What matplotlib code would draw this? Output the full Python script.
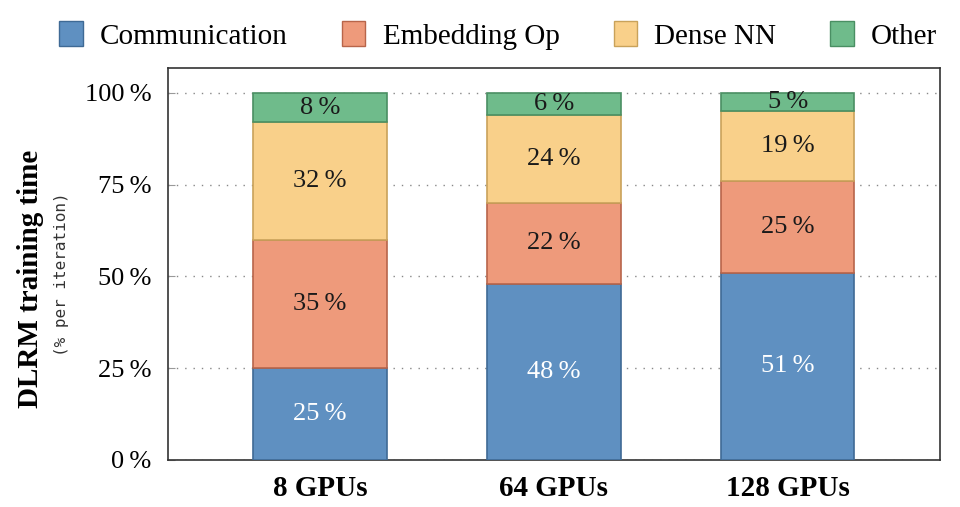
import numpy as np
import matplotlib.pyplot as plt
from matplotlib.patches import Patch

# datos
grupos = ['8 GPUs', '64 GPUs', '128 GPUs']
series = ['Communication', 'Embedding Op', 'Dense NN', 'Other']
communication = [25, 48, 51]
embedding = [35, 22, 25]
dense = [32, 24, 19]
other = [8, 6, 5]
valores = [communication, embedding, dense, other]

colores = ['#5f90c1', '#ee9a7b', '#f9d08a', '#6fbb8b']
bordes = ['#3f6a95', '#b8654a', '#c9a25a', '#4a8f63']
texto = ['white', '#1a1a1a', '#1a1a1a', '#1a1a1a']

plt.rcParams['font.family'] = ['Liberation Serif', 'DejaVu Serif']

fig = plt.figure(figsize=(9.6, 5.07), dpi=100)
ax = fig.add_axes([0.175, 0.093, 0.804, 0.773])

x = np.arange(len(grupos))
base = np.zeros(len(grupos))
for vals, c, b, t in zip(valores, colores, bordes, texto):
    ax.bar(x, vals, 0.57, bottom=base, color=c, edgecolor=b, linewidth=1.2, zorder=3)
    for xi, bi, v in zip(x, base, vals):
        ax.text(xi, bi + v / 2, f'{v}\u2009%', ha='center', va='center',
                fontsize=19, color=t, zorder=4)
    base += vals

ax.set_xlim(-0.65, 2.65)
ax.set_ylim(0, 106.8)
ax.set_yticks([0, 25, 50, 75, 100])
ax.set_yticklabels(['0\u2009%', '25\u2009%', '50\u2009%', '75\u2009%', '100\u2009%'], fontsize=19)
ax.set_xticks(x)
ax.set_xticklabels(grupos, fontsize=21, fontweight='bold')
ax.tick_params(axis='x', length=0, pad=11)
ax.tick_params(axis='y', direction='in', length=5, color='#999999', pad=12)
ax.yaxis.grid(True, linestyle=(0, (1, 5)), color='#888888', linewidth=1, zorder=0)
for s in ax.spines.values():
    s.set_color('#333333')
    s.set_linewidth(1.2)

fig.text(0.032, 0.45, 'DLRM training time', rotation=90, ha='center', va='center',
         fontsize=21, fontweight='bold')
fig.text(0.064, 0.46, '(% per iteration)', rotation=90, ha='center', va='center',
         fontsize=11.5, family='DejaVu Sans Mono', color='#333333')

handles = [Patch(facecolor=c, edgecolor=b) for c, b in zip(colores, bordes)]
fig.legend(handles, series, loc='center', bbox_to_anchor=(0.519, 0.93), ncol=4,
           frameon=False, fontsize=21, handlelength=0.8, handleheight=0.9,
           columnspacing=1.85, handletextpad=0.6)

plt.savefig('out.png')
